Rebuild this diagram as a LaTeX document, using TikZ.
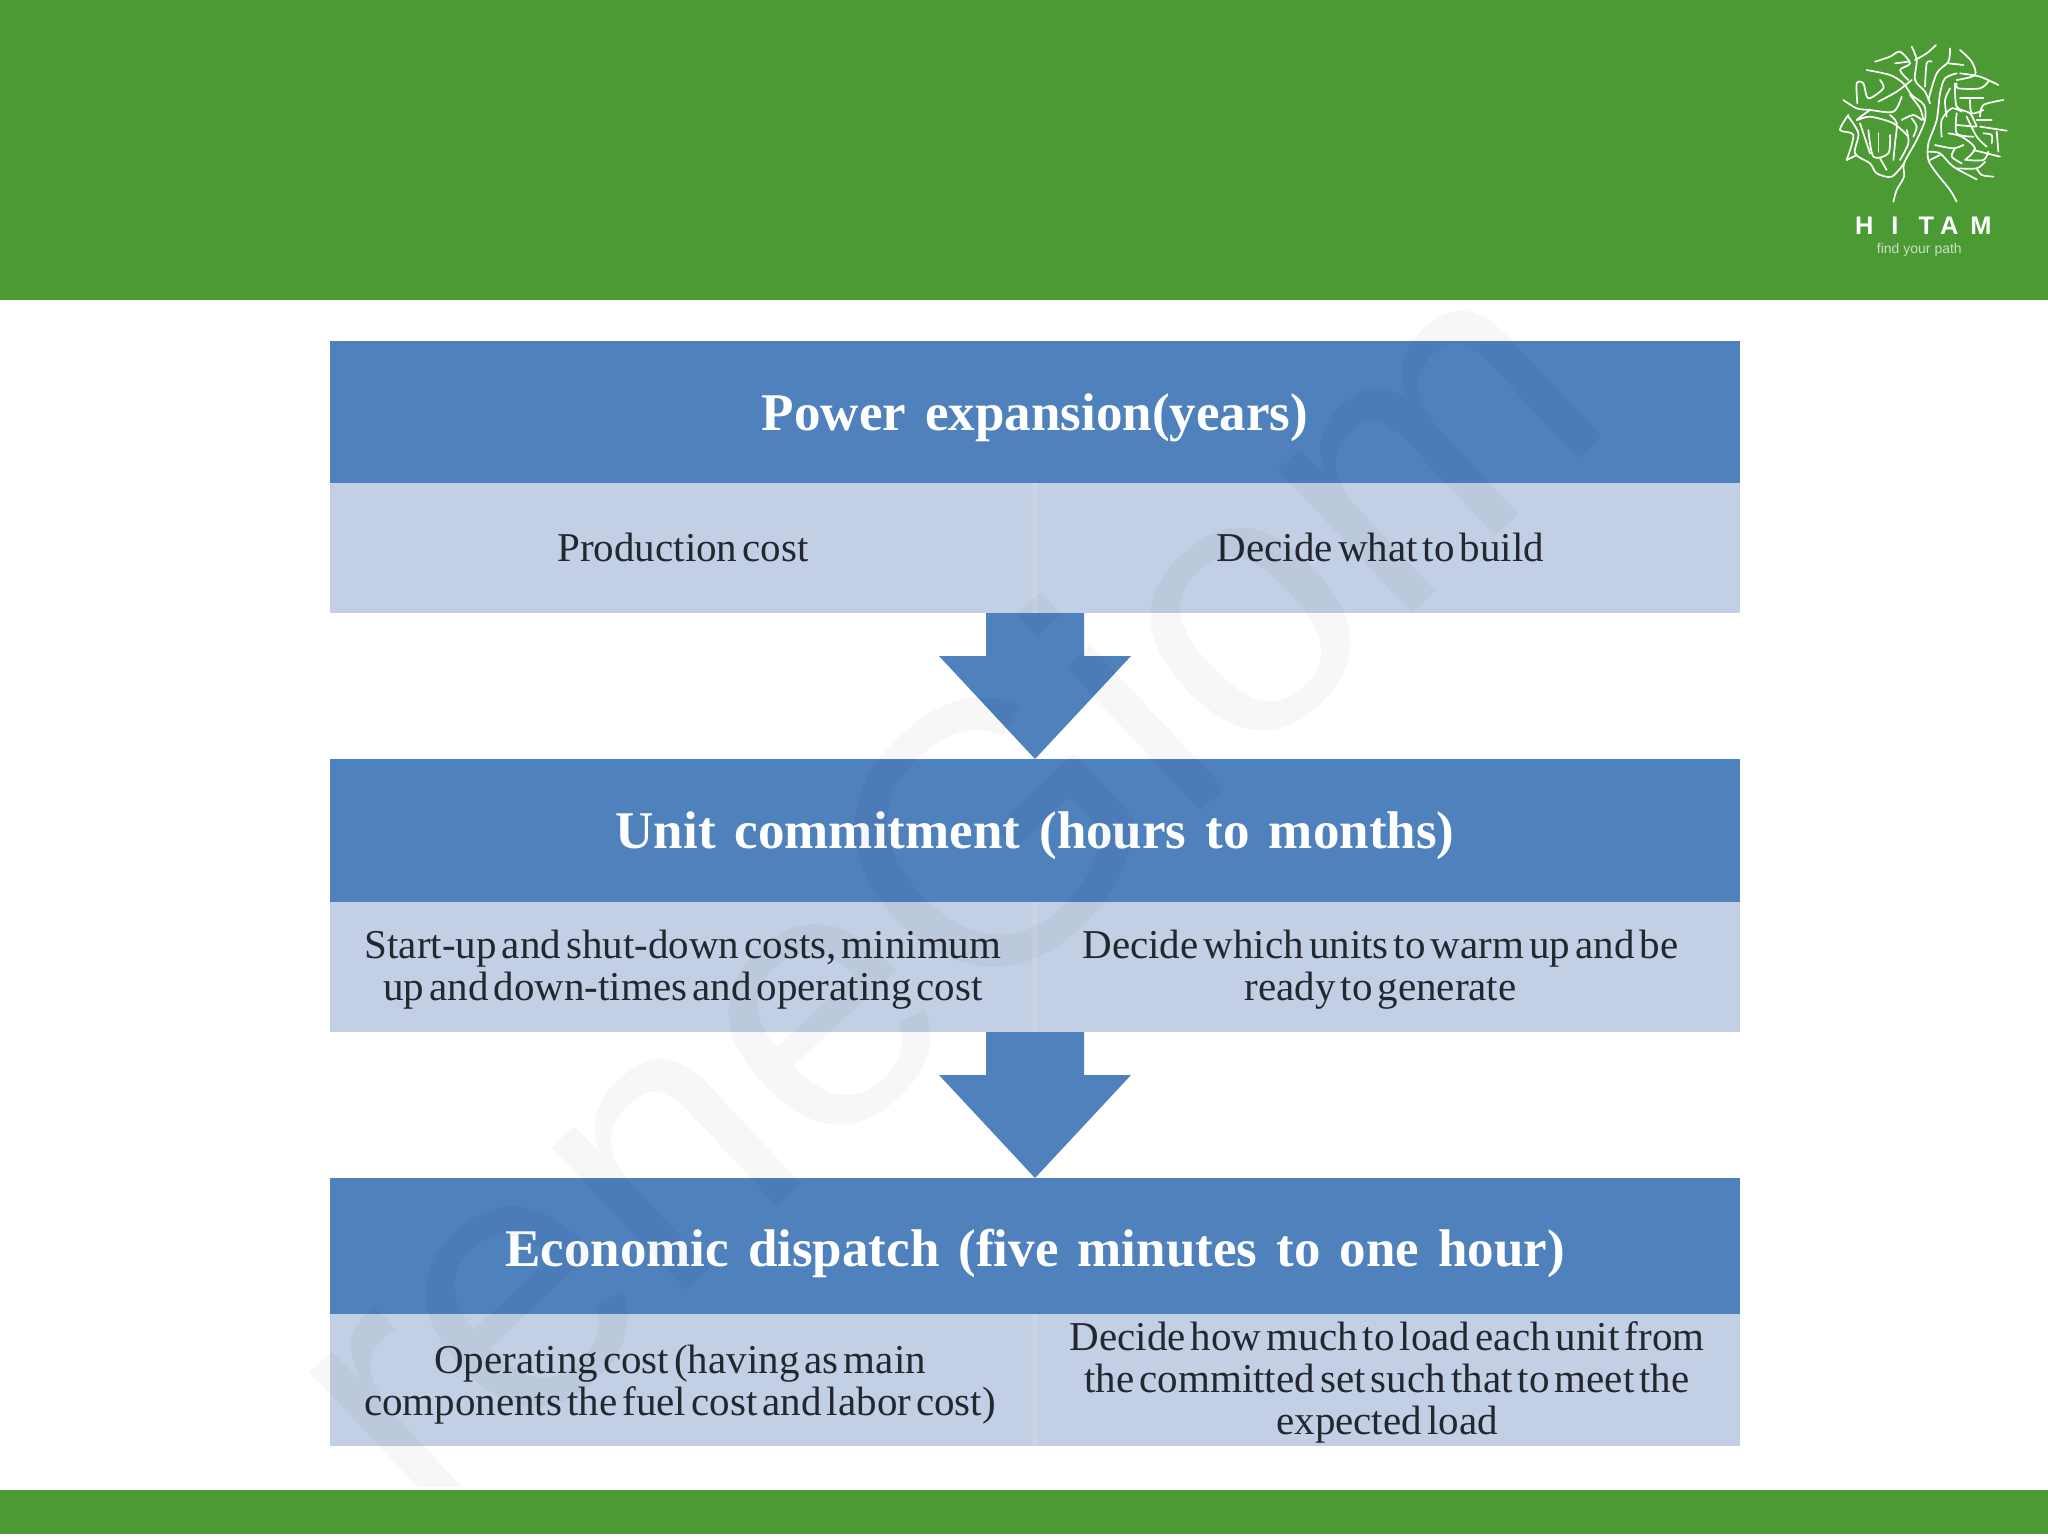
\documentclass[tikz,border=0pt]{standalone}
\usepackage{fontspec}
\setmainfont{Liberation Serif}
\newfontfamily\logofont{Liberation Sans}
\newfontfamily\bodyfont[WordSpace=0.5]{Liberation Serif}
\usetikzlibrary{calc}
\definecolor{bandgreen}{HTML}{4B9A34}
\definecolor{hdrblue}{HTML}{4F81BD}
\definecolor{cellblue}{HTML}{C3CFE4}
\definecolor{celldiv}{HTML}{C9D4E7}
\definecolor{celltext}{HTML}{23272F}
\newcommand{\hdrwords}[1]{{\spaceskip=0.36em\relax #1}}
\tikzset{
  band/.style={fill=bandgreen,draw=none},
  hdrbox/.style={rectangle,fill=hdrblue,inner sep=0pt,outer sep=0pt,minimum width=705pt},
  hdrtext/.style={inner sep=0pt,text=white,font=\bfseries\fontsize{26.5}{30}\selectfont},
  cellbox/.style={rectangle,fill=cellblue,inner sep=0pt,outer sep=0pt,minimum width=705pt},
  celltxt/.style={inner sep=0pt,text=celltext,align=center,font=\bodyfont\fontsize{20.5}{21}\selectfont},
  divider/.style={draw=celldiv,line width=3pt},
  blockarrow/.style={fill=hdrblue,draw=none},
  logoline/.style={draw=white,line width=0.85pt,line cap=round,line join=round},
}
\newcommand{\downblock}[2]{%
  \fill[blockarrow] ($(#1)+(-49,0)$) -- ($(#1)+(-49,43)$) -- ($(#1)+(-96,43)$) -- (#2)
    -- ($(#1)+(96,43)$) -- ($(#1)+(49,43)$) -- ($(#1)+(49,0)$) -- cycle;}
\begin{document}
\begin{tikzpicture}[x=0.5pt,y=-0.5pt]
\useasboundingbox (0,0) rectangle (2048,1536);
\fill[white] (0,0) rectangle (2048,1536);
\fill[band] (0,0) rectangle (2048,300);
\fill[band] (0,1490) rectangle (2048,1534);
% row 1
\node[hdrbox,minimum height=71pt] (h1) at (1035,412) {};
\node[cellbox,minimum height=65pt] (b1) at (1035,548) {};
\draw[divider] (b1.north) -- (b1.south);
\node[hdrtext] (t1) at (1035,418) {\hdrwords{Power expansion(years)}};
\node[celltxt] (l1) at (683,547) {Production cost};
\node[celltxt] (r1) at (1380.5,547) {Decide what to build};
% row 2
\node[hdrbox,minimum height=71.5pt] (h2) at (1035,830.5) {};
\node[cellbox,minimum height=65pt] (b2) at (1035,967) {};
\draw[divider] (b2.north) -- (b2.south);
\node[hdrtext] (t2) at (1035,836) {\hdrwords{Unit commitment (hours to months)}};
\node[celltxt] (l2) at (683,969.5) {Start-up and shut-down costs, minimum\\up and down-times and operating cost};
\node[celltxt] (r2) at (1380.5,969.5) {Decide which units to warm up and be\\ready to generate};
% row 3
\node[hdrbox,minimum height=68pt] (h3) at (1035,1246) {};
\node[cellbox,minimum height=66pt] (b3) at (1035,1380) {};
\draw[divider] (b3.north) -- (b3.south);
\node[hdrtext] (t3) at (1035,1253) {\hdrwords{Economic dispatch (five minutes to one hour)}};
\node[celltxt] (l3) at (680,1384.5) {Operating cost (having as main\\components the fuel cost and labor cost)};
\node[celltxt] (r3) at (1387,1382) {Decide how much to load each unit from\\the committed set such that to meet the\\expected load};
% arrows
\coordinate (a1) at (b1.south);
\coordinate (a2) at (b2.south);
\downblock{a1}{h2.north}
\downblock{a2}{h3.north}
% watermark
\begin{scope}
\clip (0,305) rectangle (2048,1486);
\node[rotate=43,anchor=west,inner sep=0pt,opacity=0.03,text=black,font=\logofont\fontsize{186}{190}\selectfont] (wm) at (335,1437) {reneGiom};
\end{scope}
% logo
\begin{scope}[shift={(1780,20)},x=0.16667pt,y=-0.16667pt]
\draw[logoline] plot[smooth] coordinates {(340,545)(350,510)(372,470)(372,430)(410,360)(435,300)(432,255)(395,225)(370,190)(330,165)(260,150)};
\draw[logoline] plot[smooth] coordinates {(530,545)(510,510)(470,460)(445,420)(445,370)(470,300)(480,220)(495,175)(530,160)};
\draw[logoline] plot[smooth] coordinates {(450,250)(435,215)(405,180)(410,120)(395,80)};
\draw[logoline] plot[smooth] coordinates {(405,120)(440,100)(468,75)};
\draw[logoline] plot[smooth] coordinates {(435,200)(440,130)(455,125)};
\draw[logoline] plot[smooth] coordinates {(445,240)(470,160)(505,125)(510,85)};
\draw[logoline] plot[smooth] coordinates {(505,130)(550,135)};
\draw[logoline] plot[smooth] coordinates {(540,90)(575,125)(585,165)(530,180)};
\draw[logoline] plot[smooth] coordinates {(540,160)(600,170)(655,195)};
\draw[logoline] plot[smooth] coordinates {(530,190)(535,205)(600,205)(625,185)};
\draw[logoline] plot[smooth] coordinates {(525,190)(530,260)(570,280)(590,320)};
\draw[logoline] plot[smooth] coordinates {(540,235)(610,235)};
\draw[logoline] plot[smooth] coordinates {(570,240)(575,280)(610,270)};
\draw[logoline] plot[smooth] coordinates {(600,290)(610,255)(670,240)};
\draw[logoline] plot[smooth] coordinates {(590,300)(635,300)};
\draw[logoline] plot[smooth] coordinates {(600,320)(680,332)};
\draw[logoline] plot[smooth] coordinates {(650,335)(655,395)};
\draw[logoline] plot[smooth] coordinates {(610,340)(635,345)(635,370)};
\draw[logoline] plot[smooth] coordinates {(485,350)(485,300)(515,265)(545,275)};
\draw[logoline] plot[smooth] coordinates {(530,280)(530,340)(580,350)};
\draw[logoline] plot[smooth] coordinates {(530,315)(585,320)};
\draw[logoline] plot[smooth] coordinates {(505,340)(545,350)(585,385)(555,420)};
\draw[logoline] plot[smooth] coordinates {(465,375)(520,385)(550,375)};
\draw[logoline] plot[smooth] coordinates {(525,385)(515,410)(545,430)};
\draw[logoline] plot[smooth] coordinates {(445,395)(480,400)(520,440)(590,478)};
\draw[logoline] plot[smooth] coordinates {(450,420)(480,405)};
\draw[logoline] plot[smooth] coordinates {(580,390)(660,410)};
\draw[logoline] plot[smooth] coordinates {(560,420)(610,420)(625,395)};
\draw[logoline] plot[smooth] coordinates {(530,445)(590,445)(615,425)};
\draw[logoline] plot[smooth] coordinates {(590,445)(605,465)(640,470)};
\draw[logoline] plot[smooth] coordinates {(285,125)(330,110)(360,95)(390,130)(360,150)(385,180)};
\draw[logoline] plot[smooth] coordinates {(345,130)(385,125)};
\draw[logoline] plot[smooth] coordinates {(395,180)(350,215)(295,245)};
\draw[logoline] plot[smooth] coordinates {(300,180)(310,205)(265,235)(250,190)(230,190)(232,250)};
\draw[logoline] plot[smooth] coordinates {(190,240)(230,265)(270,270)(340,275)(365,230)};
\draw[logoline] plot[smooth] coordinates {(390,225)(420,265)(430,300)};
\draw[logoline] plot[smooth] coordinates {(365,300)(400,285)(425,300)};
\draw[logoline] plot[smooth] coordinates {(270,270)(230,300)(270,290)(340,310)(385,350)};
\draw[logoline] plot[smooth] coordinates {(330,285)(350,310)(345,370)(340,420)};
\draw[logoline] plot[smooth] coordinates {(395,295)(410,320)(400,350)};
\draw[logoline] plot[smooth] coordinates {(205,285)(180,330)(220,345)(200,420)};
\draw[logoline] plot[smooth] coordinates {(205,290)(235,340)(225,400)(270,430)(290,460)(335,470)(372,430)};
\draw[logoline] plot[smooth] coordinates {(240,310)(270,400)};
\draw[logoline] plot[smooth] coordinates {(265,330)(280,410)(325,400)(330,345)};
\draw[logoline] plot[smooth] coordinates {(295,340)(295,395)};
\draw[logoline] plot[smooth] coordinates {(300,415)(320,450)};
\draw[logoline] plot[smooth] coordinates {(200,420)(230,405)};
\draw[logoline] plot[smooth] coordinates {(510,205)(495,240)(500,290)};
\draw[logoline] plot[smooth] coordinates {(560,290)(590,350)(620,380)};
\draw[logoline] plot[smooth] coordinates {(380,330)(385,370)(360,420)};
\node[white,inner sep=0pt,font=\logofont\bfseries\fontsize{12.7}{13}\selectfont] (logoname) at (430,618) {H\hspace{9pt}I\hspace{10pt}T\hspace{3pt}A\hspace{6pt}M};
\node[white!70!bandgreen,inner sep=0pt,font=\logofont\fontsize{7}{8}\selectfont] (logotag) at (418,690) {find your path};
\end{scope}
\end{tikzpicture}
\end{document}
